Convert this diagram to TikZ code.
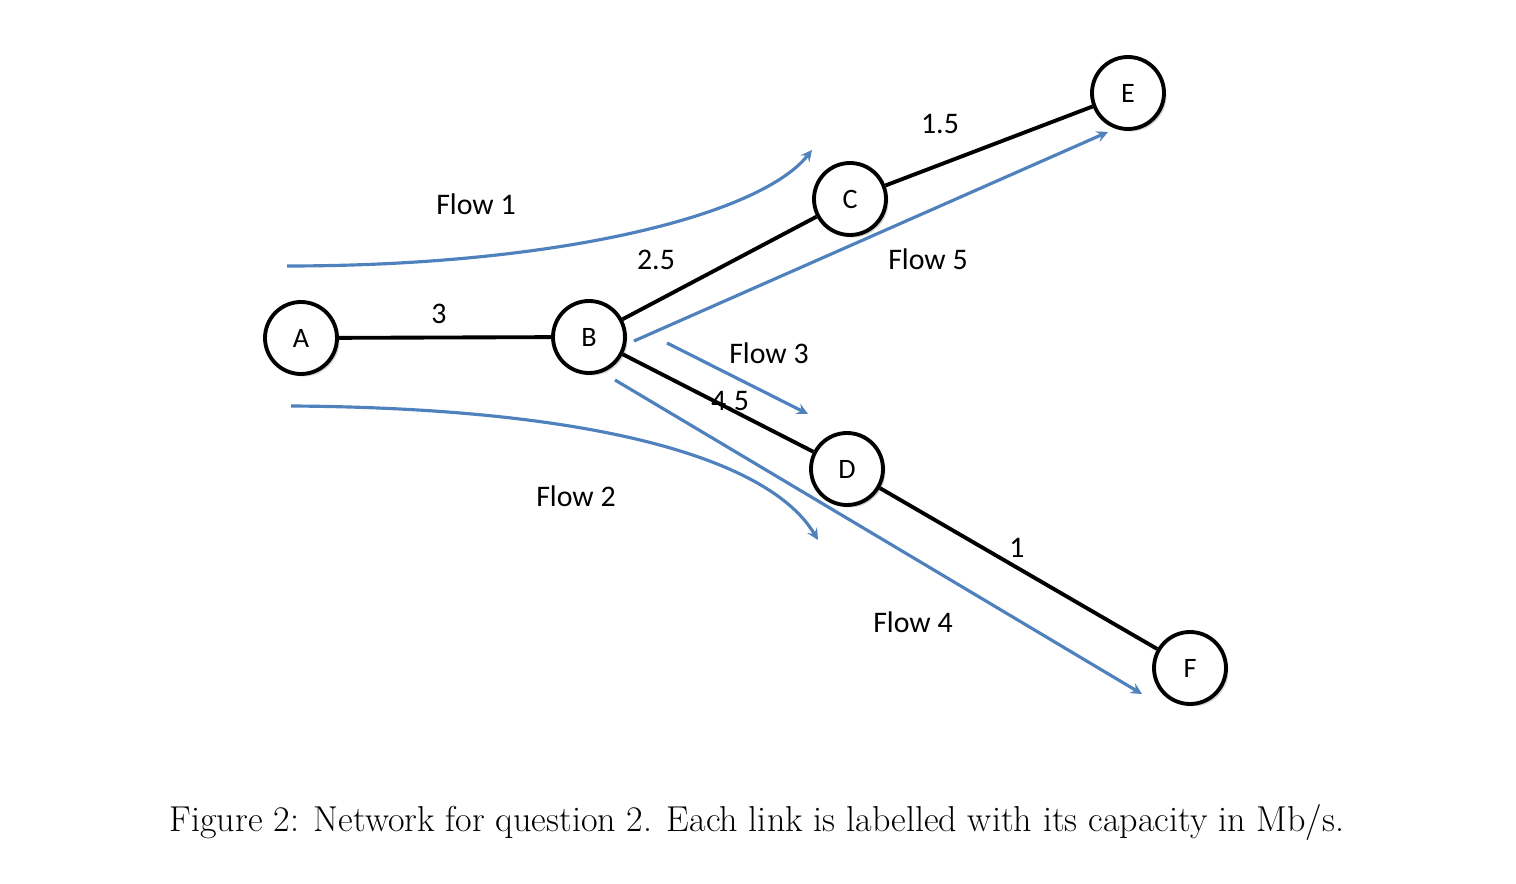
\documentclass[tikz,border=0pt]{standalone}
\usepackage{fontspec}
\setmainfont{Carlito}
\newfontfamily\capfont{Latin Modern Roman}
\usetikzlibrary{arrows,shadows}
\definecolor{flowc}{rgb}{0.31, 0.506, 0.741}
\tikzstyle{router}=[circle,draw,line width=2.2pt,fill=white,minimum size=1.44cm,inner sep=0pt,font=\fontsize{16}{18}\selectfont,drop shadow={opacity=0.35,shadow xshift=0.05cm,shadow yshift=-0.05cm}]
\tikzstyle{link}=[line width=2.2pt]
\tikzstyle{flow}=[flowc,line width=1.8pt,-stealth]
\tikzstyle{lbl}=[font=\fontsize{17}{20}\selectfont]
\begin{document}
\begin{tikzpicture}[x=0.02cm,y=-0.02cm]
\useasboundingbox (0,0) rectangle (1516,884);
% routers
\node[router] (A) at (301,338) {A};
\node[router] (B) at (589,337) {B};
\node[router] (C) at (850,199) {C};
\node[router] (E) at (1128,93) {E};
\node[router] (D) at (847,469) {D};
\node[router] (F) at (1190,668) {F};
% links
\draw[link] (A) -- (B);
\draw[link] (B) -- (C);
\draw[link] (C) -- (E);
\draw[link] (B) -- (D);
\draw[link] (D) -- (F);
\node[lbl] (cAB) at (439,314) {3};
\node[lbl] (cBC) at (656,260) {2.5};
\node[lbl] (cCE) at (940,124) {1.5};
\node[lbl] (cBD) at (730,401) {4.5};
\node[lbl] (cDF) at (1017,548) {1};
% flows
\coordinate (f1s) at (287,266);
\coordinate (f1e) at (812,150);
\coordinate (f2s) at (291,406);
\coordinate (f2e) at (818,540);
\coordinate (f3s) at (667,343);
\coordinate (f3e) at (808,414);
\coordinate (f4s) at (615,380);
\coordinate (f4e) at (1142,694);
\coordinate (f5s) at (634,341);
\coordinate (f5e) at (1108,132);
\draw[flow] (f1s) .. controls (560,266) and (760,215) .. (f1e);
\draw[flow] (f2s) .. controls (600,408) and (770,460) .. (f2e);
\draw[flow] (f3s) -- (f3e);
\draw[flow] (f4s) -- (f4e);
\draw[flow] (f5s) -- (f5e);
\node[lbl] (fl1) at (476,204) {Flow 1};
\node[lbl] (fl2) at (576,496) {Flow 2};
\node[lbl] (fl3) at (769,353) {Flow 3};
\node[lbl] (fl4) at (913,622) {Flow 4};
\node[lbl] (fl5) at (928,259) {Flow 5};
% caption
\node[font=\capfont\fontsize{20.5}{24}\selectfont] (cap) at (757,822) {Figure 2: Network for question 2. Each link is labelled with its capacity in Mb/s.};
\end{tikzpicture}
\end{document}
